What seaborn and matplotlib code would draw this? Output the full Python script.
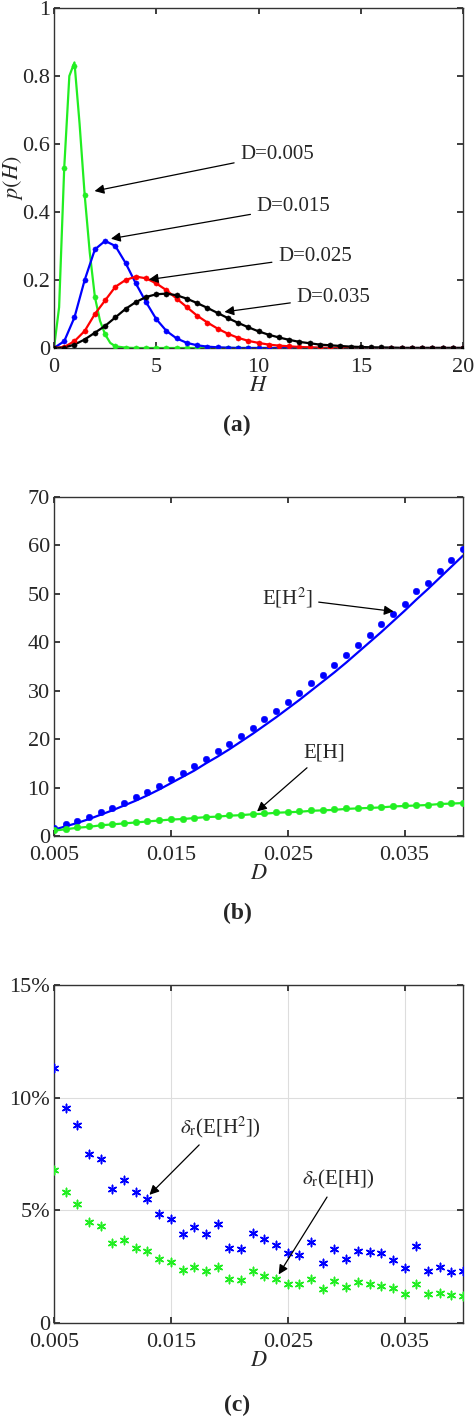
import numpy as np
import pandas as pd
import matplotlib
matplotlib.use("Agg")
import matplotlib.pyplot as plt
import seaborn as sns
from matplotlib.ticker import FuncFormatter

# ---- Panel (a) data ----
H_dots = [i * 0.5 for i in range(41)]
H_green_line = [0, 0.25, 0.5, 0.75, 1.0, 1.25, 1.5, 1.75, 2.0, 2.25, 2.5, 2.75, 3.0, 3.5, 4.0, 20.0]
p_green_line = [0, 0.12, 0.53, 0.80, 0.84, 0.66, 0.45, 0.28, 0.15, 0.08, 0.04, 0.015, 0.005, 0.001, 0, 0]
p_green = [0, 0.53, 0.83, 0.45, 0.15, 0.04, 0.005] + [0] * 34
p_blue = [0, 0.02, 0.09, 0.20, 0.29, 0.315, 0.30, 0.25, 0.19, 0.135, 0.085, 0.05, 0.028,
          0.015, 0.008, 0.004, 0.002, 0.001] + [0] * 23
p_red = [0, 0.003, 0.02, 0.05, 0.10, 0.14, 0.18, 0.20, 0.21, 0.205, 0.19, 0.17, 0.145, 0.12,
         0.095, 0.075, 0.057, 0.042, 0.03, 0.021, 0.015, 0.01, 0.007, 0.005, 0.003, 0.002,
         0.001] + [0] * 14
p_black = [0, 0.001, 0.01, 0.025, 0.045, 0.065, 0.09, 0.115, 0.135, 0.15, 0.158, 0.16, 0.155,
           0.145, 0.132, 0.118, 0.103, 0.088, 0.074, 0.061, 0.049, 0.039, 0.031, 0.024, 0.018,
           0.014, 0.01, 0.008, 0.006, 0.004, 0.003, 0.002, 0.0015, 0.001] + [0] * 7

# ---- Panel (b) data ----
D = [round(0.005 + 0.001 * i, 3) for i in range(36)]
EH2_dots = [1.6, 2.4, 3.1, 4.0, 4.9, 5.8, 6.9, 8.0, 9.1, 10.4, 11.7, 13.0, 14.5, 16.0, 17.5, 19.0,
            20.6, 22.4, 24.1, 25.9, 27.6, 29.5, 31.5, 33.3, 35.4, 37.4, 39.5, 41.6, 43.7, 45.8,
            47.9, 50.5, 52.3, 54.7, 56.9, 59.3]
EH2_line = [1.3, 2.0, 2.7, 3.5, 4.4, 5.3, 6.3, 7.3, 8.4, 9.6, 10.9, 12.2, 13.5, 15.0, 16.4, 17.9,
            19.5, 21.1, 22.8, 24.5, 26.3, 28.1, 30.0, 31.9, 33.8, 35.8, 37.9, 40.0, 42.1, 44.3,
            46.5, 48.8, 51.0, 53.3, 55.6, 57.9]
EH_dots = [1.2, 1.5, 1.8, 2.0, 2.3, 2.5, 2.7, 2.9, 3.1, 3.3, 3.5, 3.6, 3.8, 4.0, 4.1, 4.3, 4.4,
           4.6, 4.7, 4.9, 5.0, 5.1, 5.3, 5.4, 5.5, 5.7, 5.8, 5.9, 6.0, 6.2, 6.3, 6.4, 6.5, 6.7,
           6.8, 6.9]
EH_line = [1.1, 1.4, 1.7, 1.9, 2.2, 2.4, 2.6, 2.8, 3.0, 3.2, 3.4, 3.5, 3.7, 3.9, 4.0, 4.2, 4.3,
           4.5, 4.6, 4.8, 4.9, 5.0, 5.2, 5.3, 5.4, 5.6, 5.7, 5.8, 5.9, 6.1, 6.2, 6.3, 6.4, 6.6,
           6.7, 6.8]

# ---- Panel (c) data (percent) ----
err_EH2 = [11.3, 9.55, 8.8, 7.5, 7.3, 5.95, 6.35, 5.8, 5.5, 4.85, 4.6, 3.95, 4.25, 3.95, 4.4,
           3.35, 3.3, 4.0, 3.75, 3.45, 3.1, 3.0, 3.6, 2.65, 3.3, 2.85, 3.2, 3.15, 3.1, 2.8,
           2.45, 3.4, 2.3, 2.5, 2.25, 2.3]
err_EH = [6.8, 5.8, 5.3, 4.5, 4.3, 3.55, 3.7, 3.35, 3.2, 2.85, 2.7, 2.35, 2.5, 2.3, 2.5, 1.95,
          1.9, 2.3, 2.1, 1.95, 1.75, 1.75, 1.95, 1.5, 1.85, 1.6, 1.8, 1.75, 1.65, 1.55, 1.3,
          1.75, 1.3, 1.35, 1.25, 1.2]

sns.set_theme(style="ticks")
plt.rcParams['font.family'] = ['Liberation Serif', 'DejaVu Serif']
plt.rcParams['mathtext.fontset'] = 'stix'
plt.rcParams['axes.edgecolor'] = '#333333'
plt.rcParams['axes.linewidth'] = 1.0

FS = 16
AFS = 15
fig = plt.figure(figsize=(4.74, 14.24), dpi=100)
W, Hh = 474, 1424
def add_ax(top, bottom):
    return fig.add_axes([54 / W, 1 - bottom / Hh, (463 - 54) / W, (bottom - top) / Hh])

ax1 = add_ax(8, 348)
ax2 = add_ax(497, 836)
ax3 = add_ax(985, 1323)

GREEN = '#22ee22'
arrow = dict(arrowstyle='-|>', color='black', lw=0.9, mutation_scale=14)

# (a)
sns.lineplot(x=H_green_line, y=p_green_line, ax=ax1, color=GREEN, lw=1.6)
for ys, c in [(p_blue, 'blue'), (p_red, 'red'), (p_black, 'black')]:
    sns.lineplot(x=H_dots, y=ys, ax=ax1, color=c, lw=1.6)
for ys, c in [(p_green, GREEN), (p_blue, 'blue'), (p_red, 'red'), (p_black, 'black')]:
    sns.scatterplot(x=H_dots, y=ys, ax=ax1, color=c, s=14, edgecolor=None, zorder=3)
ax1.set_xlim(0, 20); ax1.set_ylim(0, 1)
ax1.set_xticks([0, 5, 10, 15, 20]); ax1.set_yticks([0, 0.2, 0.4, 0.6, 0.8, 1])
ax1.set_yticklabels(['0', '0.2', '0.4', '0.6', '0.8', '1'])
ax1.set_xlabel('$H$', fontsize=FS, labelpad=0)
ax1.set_ylabel('$p(H)$', fontsize=FS, labelpad=-2)
for txt, xy, xyt in [('D=0.005', (1.85, 0.46), (9.1, 0.57)),
                     ('D=0.015', (2.65, 0.32), (9.9, 0.415)),
                     ('D=0.025', (4.5, 0.2), (10.95, 0.27)),
                     ('D=0.035', (8.2, 0.105), (11.85, 0.15))]:
    ax1.annotate(txt, xy=xy, xytext=xyt, fontsize=AFS, va='center', ha='left',
                 arrowprops=arrow)
fig.text(0.5, 1 - 425 / Hh, '(a)', ha='center', va='center', fontsize=17, fontweight='bold')

# (b)
sns.lineplot(x=D, y=EH2_line, ax=ax2, color='blue', lw=1.6)
sns.lineplot(x=D, y=EH_line, ax=ax2, color=GREEN, lw=1.6)
sns.scatterplot(x=D, y=EH2_dots, ax=ax2, color='blue', s=22, edgecolor=None, zorder=3)
sns.scatterplot(x=D, y=EH_dots, ax=ax2, color=GREEN, s=22, edgecolor=None, zorder=3)
ax2.set_xlim(0.005, 0.040); ax2.set_ylim(0, 70)
ax2.set_xticks([0.005, 0.015, 0.025, 0.035])
ax2.set_xticklabels(['0.005', '0.015', '0.025', '0.035'])
ax2.set_yticks(range(0, 71, 10))
ax2.set_xlabel('$D$', fontsize=FS, labelpad=0)
ax2.annotate('E[H$^2$]', xy=(0.0343, 46.3), xytext=(0.0228, 49.1), fontsize=AFS,
             va='center', ha='left', arrowprops=arrow)
ax2.annotate('E[H]', xy=(0.0222, 4.7), xytext=(0.0263, 17.1), fontsize=AFS,
             va='center', ha='left', arrowprops=arrow)
fig.text(0.5, 1 - 913 / Hh, '(b)', ha='center', va='center', fontsize=17, fontweight='bold')

# (c)
sns.scatterplot(x=D, y=err_EH2, ax=ax3, color='blue', marker=(6, 2, 0), s=36, linewidth=1.1, zorder=3)
sns.scatterplot(x=D, y=err_EH, ax=ax3, color=GREEN, marker=(6, 2, 0), s=36, linewidth=1.1, zorder=3)
ax3.set_xlim(0.005, 0.040); ax3.set_ylim(0, 15)
ax3.set_xticks([0.005, 0.015, 0.025, 0.035])
ax3.set_xticklabels(['0.005', '0.015', '0.025', '0.035'])
ax3.set_yticks([0, 5, 10, 15])
ax3.yaxis.set_major_formatter(FuncFormatter(lambda v, p: '0' if v == 0 else f'{v:.0f}%'))
ax3.grid(True, color='#dddddd', lw=0.8)
ax3.set_axisbelow(True)
ax3.set_xlabel('$D$', fontsize=FS, labelpad=0)
ax3.annotate(r'$\delta_{\rm r}$(E[H$^2$])', xy=(0.0130, 5.6), xytext=(0.0158, 8.7),
             fontsize=AFS, va='center', ha='left',
             arrowprops=dict(arrow, relpos=(0.3, 0)))
ax3.annotate(r'$\delta_{\rm r}$(E[H])', xy=(0.0241, 2.05), xytext=(0.0262, 6.35),
             fontsize=AFS, va='center', ha='left',
             arrowprops=dict(arrow, relpos=(0.4, 0)))
fig.text(0.5, 1 - 1405 / Hh, '(c)', ha='center', va='center', fontsize=17, fontweight='bold')

for ax in (ax1, ax2, ax3):
    ax.tick_params(direction='in', top=True, right=True, labelsize=FS, length=4)
    ax.tick_params(axis='x', pad=7)
    ax.tick_params(axis='y', pad=3)
    for s in ax.spines.values():
        s.set_visible(True)
ax2.set_ylabel(''); ax3.set_ylabel('')

fig.savefig('out.png', dpi=100)
